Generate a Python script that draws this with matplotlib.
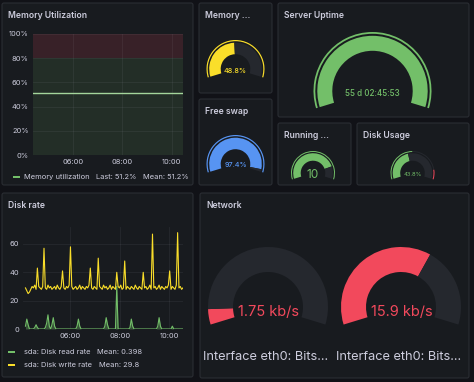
import numpy as np
import matplotlib
matplotlib.use("Agg")
import matplotlib.pyplot as plt
from matplotlib.patches import Wedge, FancyBboxPatch, Rectangle

plt.rcParams['font.family'] = ['Inter', 'DejaVu Sans']

W, H = 474, 382
BG = '#111217'
PANEL = '#181b1f'
BORDER = '#2a2d33'
TXT = '#ccccdc'
GREEN = '#73bf69'
YELLOW = '#fade2a'
BLUE = '#5794f2'
RED = '#f2495c'
EMPTY = '#25282e'

# memory utilization (hours of day, percent)
mem_hours = [4.4, 5.0, 6.0, 7.0, 8.0, 9.0, 10.0, 10.45]
mem_vals = [51.2, 51.2, 51.2, 51.2, 51.2, 51.2, 51.2, 51.2]

# disk rate, one sample every 3.2 min from 04:12
disk_start = 4.2
disk_step = 3.2 / 60
disk_write = [29, 27, 25, 26, 28, 30, 29, 31, 28, 43,
              30, 29, 28, 30, 57, 29, 28, 31, 29, 30,
              28, 29, 30, 28, 31, 29, 28, 30, 41, 29,
              28, 30, 29, 31, 58, 30, 28, 29, 30, 28,
              29, 31, 28, 30, 29, 28, 30, 29, 31, 43,
              29, 28, 30, 29, 28, 50, 30, 29, 28, 31,
              29, 30, 28, 29, 31, 28, 30, 29, 28, 40,
              30, 29, 31, 28, 29, 48, 28, 30, 29, 28,
              30, 29, 28, 31, 29, 28, 30, 29, 28, 40,
              29, 30, 28, 29, 31, 28, 67, 29, 30, 28,
              29, 31, 28, 30, 29, 28, 30, 29, 31, 41,
              28, 30, 29, 28, 31, 68, 29, 30, 28, 29]
disk_read = [2, 7, 3, 0, 0, 0, 0, 1, 3, 1,
             0, 0, 0, 0, 0, 1, 4, 10, 2, 0,
             3, 8, 2, 0, 0, 0, 0, 0, 0, 0,
             0, 0, 0, 0, 0, 0, 0, 0, 0, 2,
             7, 2, 0, 0, 0, 0, 0, 0, 0, 0,
             0, 0, 0, 0, 0, 0, 0, 0, 0, 0,
             2, 8, 3, 0, 0, 0, 0, 0, 0, 30,
             0, 0, 0, 0, 0, 0, 0, 0, 0, 1,
             7, 2, 0, 0, 0, 0, 0, 0, 0, 0,
             0, 0, 0, 0, 0, 0, 0, 0, 0, 0,
             2, 8, 2, 0, 0, 0, 0, 0, 0, 0,
             0, 2, 0, 0, 0, 0, 0, 0, 0, 0]

time_ticks = [6, 8, 10]
time_labels = ['06:00', '08:00', '10:00']

# gauges: label text, fraction of arc, colour
gauge_text = ['48.8%', '97.4%', '55 d 02:45:53', '10', '43.8%']
gauge_frac = [0.488, 0.974, 1.0, 0.83, 0.438]
gauge_col = [YELLOW, BLUE, GREEN, GREEN, GREEN]

net_text = ['1.75 kb/s', '15.9 kb/s']
net_frac = [1.75 / 25, 15.9 / 25]
net_label = ['Interface eth0: Bits...', 'Interface eth0: Bits...']

fig = plt.figure(figsize=(W / 100, H / 100), dpi=100, facecolor=BG)
bg = fig.add_axes([0, 0, 1, 1])
bg.set_xlim(0, W)
bg.set_ylim(0, H)
bg.axis('off')
bg.set_facecolor(BG)


def Y(y):
    return H - y


def panel(x0, y0, x1, y1, title):
    bg.add_patch(FancyBboxPatch((x0, Y(y1)), x1 - x0, y1 - y0,
                                boxstyle='round,pad=0,rounding_size=2',
                                fc=PANEL, ec=BORDER, lw=0.8))
    bg.text(x0 + 6, Y(y0 + 12), title, color=TXT, fontsize=6.2,
            fontweight='semibold', va='center', ha='left')


panel(2, 3, 193, 185, 'Memory Utilization')
panel(199, 3, 272, 93, 'Memory ...')
panel(199, 99, 272, 185, 'Free swap')
panel(278, 3, 469, 117, 'Server Uptime')
panel(278, 123, 351, 185, 'Running ...')
panel(357, 123, 469, 185, 'Disk Usage')
panel(2, 193, 193, 377, 'Disk rate')
panel(200, 193, 469, 378, 'Network')

A0, SWEEP = 197, 214


def gauge(cx, cy, r, band, frac, col, ring=None, ring_w=1.2, gap=1.5):
    cy = Y(cy)
    rb = r
    if ring is not None:
        for f0, f1, c in ring:
            bg.add_patch(Wedge((cx, cy), r, A0 - f1 * SWEEP, A0 - f0 * SWEEP,
                               width=ring_w, fc=c, ec='none'))
        rb = r - ring_w - gap
    split = A0 - frac * SWEEP
    bg.add_patch(Wedge((cx, cy), rb, split, A0, width=band, fc=col, ec='none'))
    if frac < 1:
        bg.add_patch(Wedge((cx, cy), rb, A0 - SWEEP, split, width=band,
                           fc=EMPTY, ec='none'))


# small gauges
gauge(235.5, 69, 29, 11.5, gauge_frac[0], gauge_col[0], ring=[(0, 1, YELLOW)])
bg.text(235.5, Y(71), gauge_text[0], color=YELLOW, fontsize=5.2,
        fontweight='medium', ha='center', va='center')
gauge(235.5, 164, 29, 11.5, gauge_frac[1], gauge_col[1], ring=[(0, 1, BLUE)])
bg.text(235.5, Y(165), gauge_text[1], color=BLUE, fontsize=5.2,
        fontweight='medium', ha='center', va='center')
gauge(372.5, 91, 59, 15, gauge_frac[2], gauge_col[2], ring=[(0, 1, GREEN)], ring_w=1.8, gap=2)
bg.text(372.5, Y(93), gauge_text[2], color=GREEN, fontsize=5.8,
        fontweight='medium', ha='center', va='center')
gauge(313, 173, 22, 7.5, gauge_frac[3], gauge_col[3], ring=[(0, 1, GREEN)], ring_w=1, gap=1.2)
bg.text(313, Y(175), gauge_text[3], color=GREEN, fontsize=8.5, ha='center', va='center')
gauge(412.5, 173, 22, 7.5, gauge_frac[4], gauge_col[4],
      ring=[(0, 0.5, GREEN), (0.5, 0.88, EMPTY), (0.88, 1, RED)], ring_w=1, gap=1.2)
bg.text(412.5, Y(174), gauge_text[4], color=GREEN, fontsize=4.2, ha='center', va='center')

# network gauges
for cx, t, f, lab in zip([268, 401], net_text, net_frac, net_label):
    gauge(cx, 307, 60, 25, f, RED)
    bg.text(cx + 0.5, Y(312), t, color=RED, fontsize=10.5, ha='center', va='center')
    bg.text(cx - 2, Y(357), lab, color=TXT, fontsize=9.2, ha='center', va='center')


def fax(x0, y0, x1, y1):
    return fig.add_axes([x0 / W, (H - y1) / H, (x1 - x0) / W, (y1 - y0) / H])


def style(ax):
    ax.set_facecolor('none')
    for s in ax.spines.values():
        s.set_visible(False)
    ax.tick_params(colors=TXT, labelsize=5.4, length=0, pad=3)
    ax.grid(True, color='#ccccdc', alpha=0.08, lw=0.6)
    ax.set_xticks(time_ticks)
    ax.set_xticklabels(time_labels)


# memory utilization chart
ax1 = fax(33, 34, 183, 155)
style(ax1)
ax1.axhspan(80, 100, color=RED, alpha=0.15, lw=0)
ax1.axhspan(0, 80, color=GREEN, alpha=0.12, lw=0)
ax1.plot(mem_hours, mem_vals, color='#a4d69c', lw=1)
ax1.set_xlim(4.4, 10.45)
ax1.set_ylim(0, 100)
ax1.set_yticks([0, 20, 40, 60, 80, 100])
ax1.set_yticklabels(['0%', '20%', '40%', '60%', '80%', '100%'])

bg.add_patch(Rectangle((13, Y(178)), 7, 2, fc=GREEN, ec='none'))
bg.text(24, Y(177), 'Memory utilization', color=TXT, fontsize=5.4, va='center')
bg.text(96, Y(177), 'Last: 51.2%', color=TXT, fontsize=5.4, va='center')
bg.text(143, Y(177), 'Mean: 51.2%', color=TXT, fontsize=5.4, va='center')

# disk rate chart
disk_hours = disk_start + disk_step * np.arange(len(disk_write))
ax2 = fax(23, 227, 183, 329)
style(ax2)
ax2.fill_between(disk_hours, disk_read, color=GREEN, alpha=0.35, lw=0)
ax2.plot(disk_hours, disk_read, color=GREEN, lw=0.8)
ax2.plot(disk_hours, disk_write, color=YELLOW, lw=0.8)
ax2.set_xlim(4.1, 10.55)
ax2.set_ylim(0, 72)
ax2.set_yticks([0, 20, 40, 60])

bg.add_patch(Rectangle((8, Y(353)), 7, 2, fc=GREEN, ec='none'))
bg.text(24, Y(352), 'sda: Disk read rate', color=TXT, fontsize=5.4, va='center')
bg.text(97, Y(352), 'Mean: 0.398', color=TXT, fontsize=5.4, va='center')
bg.add_patch(Rectangle((8, Y(366)), 7, 2, fc=YELLOW, ec='none'))
bg.text(24, Y(365), 'sda: Disk write rate', color=TXT, fontsize=5.4, va='center')
bg.text(99, Y(365), 'Mean: 29.8', color=TXT, fontsize=5.4, va='center')

fig.savefig('out.png', dpi=100, facecolor=BG)
